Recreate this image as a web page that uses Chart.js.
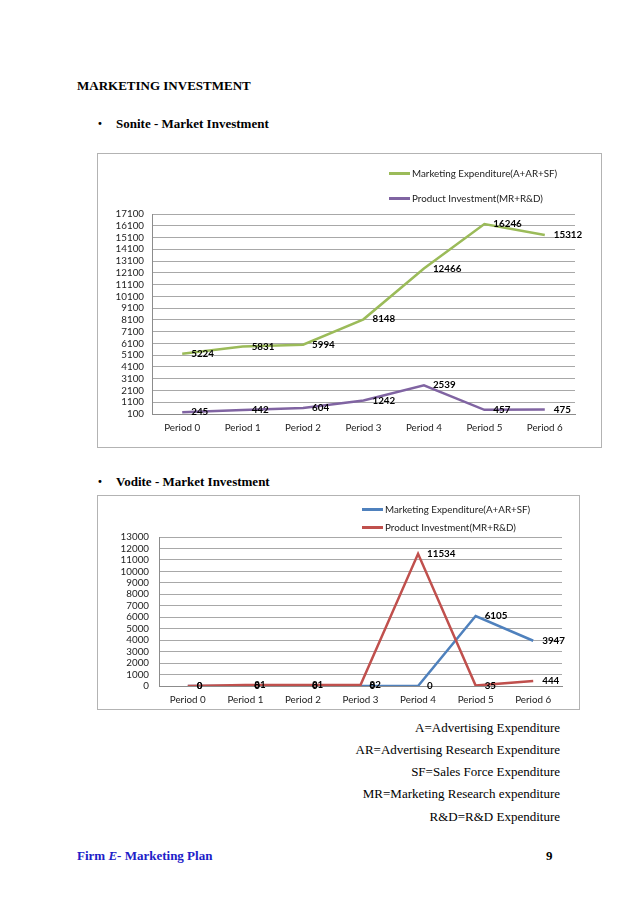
<!DOCTYPE html>
<html>
<head>
<meta charset="utf-8">
<script src="https://cdn.jsdelivr.net/npm/chart.js@4.4.1/dist/chart.umd.min.js"></script>
<style>
  html, body { margin: 0; padding: 0; background: #fff; }
  body { width: 638px; height: 902px; position: relative; overflow: hidden; font-family: "Liberation Serif", "Times New Roman", serif; color: #000; }
  .txt { position: absolute; font-size: 13px; line-height: 13px; white-space: nowrap; }
  .bold { font-weight: bold; }
  .right { text-align: right; }
  .box { position: absolute; border: 1px solid #b3b3b3; background: #fff; }
  .legend { position: absolute; font-family: Lato, "Open Sans", sans-serif; font-size: 9.8px; color: #222; }
  .legend div { position: absolute; white-space: nowrap; line-height: 12px; }
  .legend span.sw { display: inline-block; width: 21px; height: 2.5px; vertical-align: middle; margin-right: 2px; position: relative; top: -1px; }
</style>
</head>
<body>

<div class="txt bold" style="left:77px; top:79px;">MARKETING INVESTMENT</div>
<div class="txt" style="left:97px; top:117px; font-family:'DejaVu Sans'; font-size:10px;">&#8226;</div>
<div class="txt bold" style="left:116px; top:117px;">Sonite - Market Investment</div>

<div class="box" style="left:97px; top:153px; width:503px; height:293px;">
  <canvas id="soniteChart"></canvas>
</div>
<div class="legend" id="soniteLegend" style="left:389px; top:167px;"></div>

<div class="txt" style="left:97px; top:475px; font-family:'DejaVu Sans'; font-size:10px;">&#8226;</div>
<div class="txt bold" style="left:116px; top:475px;">Vodite - Market Investment</div>

<div class="box" style="left:97px; top:495px; width:481px; height:213px;">
  <canvas id="voditeChart"></canvas>
</div>
<div class="legend" id="voditeLegend" style="left:362px; top:503px;"></div>

<div class="txt right" style="right:78px; top:721px;">A=Advertising Expenditure</div>
<div class="txt right" style="right:78px; top:743px;">AR=Advertising Research Expenditure</div>
<div class="txt right" style="right:78px; top:765px;">SF=Sales Force Expenditure</div>
<div class="txt right" style="right:78px; top:787px;">MR=Marketing Research expenditure</div>
<div class="txt right" style="right:78px; top:810px;">R&amp;D=R&amp;D Expenditure</div>

<div class="txt bold" style="left:77px; top:849px; color:#2020c8;">Firm <i>E</i>- Marketing Plan</div>
<div class="txt bold" style="left:546px; top:849px;">9</div>

<script>
// Categories shared by both charts
const periods = ['Period 0', 'Period 1', 'Period 2', 'Period 3', 'Period 4', 'Period 5', 'Period 6'];

// Sonite series
const soniteMarketing = [5224, 5831, 5994, 8148, 12466, 16246, 15312];
const soniteProduct = [245, 442, 604, 1242, 2539, 457, 475];
const soniteTicks = [100, 1100, 2100, 3100, 4100, 5100, 6100, 7100, 8100, 9100, 10100, 11100, 12100, 13100, 14100, 15100, 16100, 17100];

// Vodite series
const voditeMarketing = [0, 0, 0, 0, 0, 6105, 3947];
const voditeProduct = [0, 81, 81, 82, 11534, 35, 444];
const voditeTicks = [0, 1000, 2000, 3000, 4000, 5000, 6000, 7000, 8000, 9000, 10000, 11000, 12000, 13000];

const seriesNames = ['Marketing Expenditure(A+AR+SF)', 'Product Investment(MR+R&D)'];

const colors = {
  green: '#9bbb59',
  purple: '#8064a2',
  blue: '#4f81bd',
  red: '#c0504d',
  grid: '#a8a8a8',
  axis: '#8c8c8c'
};

const chartFont = 'Lato, "Open Sans", sans-serif';

// Writes each value to the right of its point, like Excel's "right" data labels
const valueLabels = {
  id: 'valueLabels',
  afterDatasetsDraw(chart) {
    const ctx = chart.ctx;
    ctx.save();
    ctx.font = 'bold 9.8px ' + chartFont;
    ctx.fillStyle = '#000';
    ctx.textBaseline = 'middle';
    ctx.textAlign = 'left';
    chart.data.datasets.forEach(function(ds, i) {
      const meta = chart.getDatasetMeta(i);
      meta.data.forEach(function(pt, j) {
        ctx.fillText(String(ds.data[j]), pt.x + 9, pt.y);
      });
    });
    ctx.restore();
  }
};

function buildLegend(el, items) {
  items.forEach(function(item, i) {
    const row = document.createElement('div');
    row.style.top = (i * item.gap) + 'px';
    const sw = document.createElement('span');
    sw.className = 'sw';
    sw.style.background = item.color;
    row.appendChild(sw);
    row.appendChild(document.createTextNode(item.label));
    el.appendChild(row);
  });
}

function makeChart(canvasId, marketing, product, ticks, lineColors, geo) {
  return new Chart(document.getElementById(canvasId), {
    type: 'line',
    data: {
      labels: periods,
      datasets: [{
        label: seriesNames[0],
        data: marketing,
        borderColor: lineColors[0],
        borderWidth: 2.5,
        pointRadius: 0,
        tension: 0,
        order: 1
      }, {
        label: seriesNames[1],
        data: product,
        borderColor: lineColors[1],
        borderWidth: 2.5,
        pointRadius: 0,
        tension: 0,
        order: 0
      }]
    },
    options: {
      responsive: true,
      maintainAspectRatio: false,
      animation: false,
      layout: {
        padding: { left: 0, top: geo.top, right: geo.right, bottom: geo.bottom }
      },
      plugins: {
        legend: { display: false },
        tooltip: { enabled: false }
      },
      scales: {
        x: {
          offset: true,
          grid: { display: false, drawTicks: false },
          border: { display: true, color: colors.axis, width: 1 },
          ticks: { color: '#222', font: { family: chartFont, size: 9.8 }, padding: 8, maxRotation: 0 },
          afterFit: function(s) { s.height = 20; }
        },
        y: {
          min: ticks[0],
          max: ticks[ticks.length - 1],
          afterBuildTicks: function(s) {
            s.ticks = ticks.map(function(v) { return { value: v }; });
          },
          grid: { color: colors.grid, lineWidth: 1, drawTicks: false },
          border: { display: true, color: colors.axis, width: 1 },
          ticks: {
            color: '#222',
            font: { family: chartFont, size: 9.8 },
            padding: geo.tickPad,
            autoSkip: false,
            callback: function(v) { return String(v); }
          },
          afterFit: function(s) { s.width = geo.yWidth; }
        }
      }
    },
    plugins: [valueLabels]
  });
}

makeChart('soniteChart', soniteMarketing, soniteProduct, soniteTicks, [colors.green, colors.purple],
  { top: 60, right: 26, bottom: 13, yWidth: 54, tickPad: 8 });
makeChart('voditeChart', voditeMarketing, voditeProduct, voditeTicks, [colors.blue, colors.red],
  { top: 41, right: 17, bottom: 3, yWidth: 61, tickPad: 10 });

buildLegend(document.getElementById('soniteLegend'), [
  { label: seriesNames[0], color: colors.green, gap: 25 },
  { label: seriesNames[1], color: colors.purple, gap: 25 }
]);
buildLegend(document.getElementById('voditeLegend'), [
  { label: seriesNames[0], color: colors.blue, gap: 18 },
  { label: seriesNames[1], color: colors.red, gap: 18 }
]);
</script>
</body>
</html>
